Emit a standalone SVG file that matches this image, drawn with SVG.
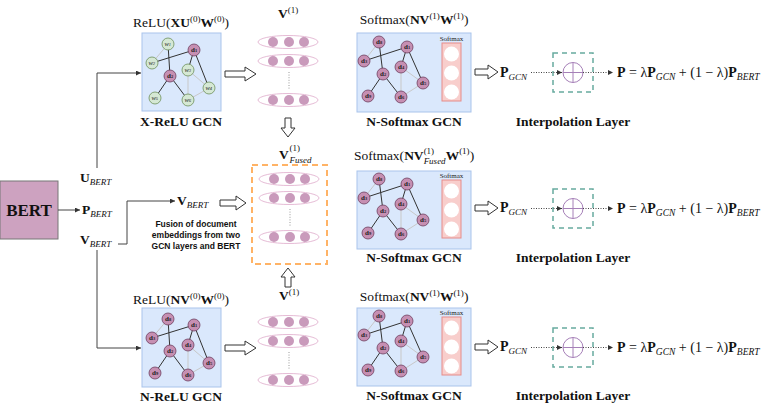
<svg xmlns="http://www.w3.org/2000/svg" xmlns:xlink="http://www.w3.org/1999/xlink" width="768" height="413" viewBox="0 0 768 413">
<style>
.m{font-family:"Liberation Serif","DejaVu Serif",serif;font-size:13.5px;fill:#111}
.b{font-weight:bold}
.i{font-style:italic}
.sup{font-size:9px}
.lbl{font-family:"Liberation Serif","DejaVu Serif",serif;font-size:13.5px;font-weight:bold;fill:#111}
.fus{font-family:"Liberation Sans","DejaVu Sans",sans-serif;font-size:8.5px;font-weight:bold;fill:#111}
.box{fill:#dae8fc;stroke:#a9c4eb;stroke-width:1}
.dk{stroke:#333;stroke-width:1}
.lt{stroke:#c8c8c8;stroke-width:1}
.pn{fill:#c68fb2;stroke:#6e3f60;stroke-width:0.8}
.gn{fill:#d5e8d4;stroke:#6d8f5a;stroke-width:0.8}
.nt{font-family:"Liberation Serif","DejaVu Serif",serif;font-size:7px;font-weight:bold;fill:#222}
.wt{font-family:"Liberation Serif","DejaVu Serif",serif;font-size:6.5px;font-style:italic;fill:#222}
.ns{font-size:4.5px}
.ell{fill:#fff;stroke:#e6bcd6;stroke-width:1}
.dot{fill:#c99abb}
.vd{stroke:#999;stroke-width:1;stroke-dasharray:1 1.6}
.hol{fill:#fff;stroke:#333;stroke-width:1}
.con{fill:none;stroke:#444;stroke-width:1}
.dt{fill:none;stroke:#444;stroke-width:1;stroke-dasharray:1 1.5}
.sq{fill:none;stroke:#67ab9f;stroke-width:1.5;stroke-dasharray:5 4}
.cp{fill:#fff;stroke:#a680b8;stroke-width:1}
.smc{fill:#f8cecc;stroke:#e58c8a;stroke-width:1}
.smt{font-family:"Liberation Serif","DejaVu Serif",serif;font-size:7px;fill:#222}
</style>
<defs>
<marker id="ah" viewBox="0 0 6 6" refX="6" refY="3" markerWidth="5" markerHeight="5" orient="auto">
<path d="M0,0 L6,3 L0,6 z" fill="#333"/>
</marker>
<g id="reluEdges">
<line class="lt" x1="26" y1="11" x2="10" y2="30"/>
<line class="lt" x1="46" y1="37" x2="46" y2="67"/>
<line class="lt" x1="46" y1="37" x2="67" y2="55"/>
<line class="lt" x1="46" y1="67" x2="67" y2="55"/>
<line class="dk" x1="26" y1="11" x2="28" y2="43"/>
<line class="dk" x1="10" y1="30" x2="52" y2="17"/>
<line class="dk" x1="52" y1="17" x2="46" y2="37"/>
<line class="dk" x1="52" y1="17" x2="67" y2="55"/>
<line class="dk" x1="28" y1="43" x2="13" y2="65"/>
<line class="dk" x1="28" y1="43" x2="46" y2="67"/>
</g>
<g id="reluDNodes">
<circle class="pn" cx="26" cy="11" r="6"/><circle class="pn" cx="52" cy="17" r="6"/>
<circle class="pn" cx="10" cy="30" r="6"/><circle class="pn" cx="46" cy="37" r="6"/>
<circle class="pn" cx="28" cy="43" r="6"/><circle class="pn" cx="67" cy="55" r="6"/>
<circle class="pn" cx="13" cy="65" r="6"/><circle class="pn" cx="46" cy="67" r="6"/>
<text class="nt" x="23" y="13">d<tspan class="ns">8</tspan></text>
<text class="nt" x="49" y="19">d<tspan class="ns">1</tspan></text>
<text class="nt" x="7" y="32">d<tspan class="ns">3</tspan></text>
<text class="nt" x="43" y="39">d<tspan class="ns">4</tspan></text>
<text class="nt" x="25" y="45">d<tspan class="ns">2</tspan></text>
<text class="nt" x="64" y="57">d<tspan class="ns">5</tspan></text>
<text class="nt" x="10" y="67">d<tspan class="ns">9</tspan></text>
<text class="nt" x="43" y="69">d<tspan class="ns">6</tspan></text>
</g>
<g id="smGraph">
<line class="lt" x1="22" y1="9" x2="7" y2="28"/>
<line class="lt" x1="44" y1="34" x2="44" y2="64"/>
<line class="lt" x1="44" y1="34" x2="66" y2="50"/>
<line class="lt" x1="44" y1="64" x2="66" y2="50"/>
<line class="dk" x1="22" y1="9" x2="26" y2="41"/>
<line class="dk" x1="7" y1="28" x2="50" y2="14"/>
<line class="dk" x1="50" y1="14" x2="44" y2="34"/>
<line class="dk" x1="50" y1="14" x2="66" y2="50"/>
<line class="dk" x1="26" y1="41" x2="11" y2="63"/>
<line class="dk" x1="26" y1="41" x2="44" y2="64"/>
<circle class="pn" cx="22" cy="9" r="6"/><circle class="pn" cx="50" cy="14" r="6"/>
<circle class="pn" cx="7" cy="28" r="6"/><circle class="pn" cx="44" cy="34" r="6"/>
<circle class="pn" cx="26" cy="41" r="6"/><circle class="pn" cx="66" cy="50" r="6"/>
<circle class="pn" cx="11" cy="63" r="6"/><circle class="pn" cx="44" cy="64" r="6"/>
<text class="nt" x="19" y="11">d<tspan class="ns">8</tspan></text>
<text class="nt" x="47" y="16">d<tspan class="ns">1</tspan></text>
<text class="nt" x="4" y="30">d<tspan class="ns">3</tspan></text>
<text class="nt" x="41" y="36">d<tspan class="ns">4</tspan></text>
<text class="nt" x="23" y="43">d<tspan class="ns">2</tspan></text>
<text class="nt" x="63" y="52">d<tspan class="ns">5</tspan></text>
<text class="nt" x="8" y="65">d<tspan class="ns">9</tspan></text>
<text class="nt" x="41" y="66">d<tspan class="ns">6</tspan></text>
<rect class="smc" x="85" y="10" width="19" height="58"/>
<text class="smt" x="94.5" y="7.5" text-anchor="middle">Softmax</text>
<circle cx="94.5" cy="21" r="7.5" fill="#fff"/>
<circle cx="94.5" cy="40" r="7.5" fill="#fff"/>
<circle cx="94.5" cy="59" r="7.5" fill="#fff"/>
</g>
<g id="vcol">
<ellipse class="ell" cx="0" cy="0" rx="30" ry="6.5"/>
<circle class="dot" cx="-15" cy="0" r="5"/><circle class="dot" cx="1" cy="0" r="5"/><circle class="dot" cx="16" cy="0" r="5"/>
<ellipse class="ell" cx="0" cy="19" rx="30" ry="6.5"/>
<circle class="dot" cx="-15" cy="19" r="5"/><circle class="dot" cx="1" cy="19" r="5"/><circle class="dot" cx="16" cy="19" r="5"/>
<line class="vd" x1="1" y1="30" x2="1" y2="47"/>
<ellipse class="ell" cx="0" cy="58" rx="30" ry="6.5"/>
<circle class="dot" cx="-15" cy="58" r="5"/><circle class="dot" cx="1" cy="58" r="5"/><circle class="dot" cx="16" cy="58" r="5"/>
</g>
<g id="interp">
<rect class="sq" x="-20" y="-19.5" width="40" height="39"/>
<circle class="cp" cx="0" cy="0" r="10"/>
<line x1="-10" y1="0" x2="10" y2="0" stroke="#a680b8" stroke-width="1"/>
<line x1="0" y1="-10" x2="0" y2="10" stroke="#a680b8" stroke-width="1"/>
</g>
</defs>

<!-- BERT -->
<g id="bert">
<rect x="0" y="181" width="58" height="58" fill="#cda2c0" stroke="#777" stroke-width="1"/>
<text class="lbl" x="29" y="216" text-anchor="middle" style="font-size:17px">BERT</text>
</g>
<g id="bert-outputs">
<text class="m" x="80" y="182"><tspan class="b">U</tspan><tspan class="i sup" dy="3">BERT</tspan></text>
<text class="m" x="82" y="214"><tspan class="b">P</tspan><tspan class="i sup" dy="3">BERT</tspan></text>
<text class="m" x="80" y="244"><tspan class="b">V</tspan><tspan class="i sup" dy="3">BERT</tspan></text>
<text class="m" x="177" y="205"><tspan class="b">V</tspan><tspan class="i sup" dy="3">BERT</tspan></text>
</g>

<!-- X-ReLU GCN -->
<g id="x-relu-gcn">
<text class="m" x="181" y="27" text-anchor="middle">ReLU(<tspan class="b">XU</tspan><tspan class="sup" dy="-5">(0)</tspan><tspan class="b" dy="5">W</tspan><tspan class="sup" dy="-5">(0)</tspan><tspan dy="5">)</tspan></text>
<rect class="box" x="142" y="33" width="79" height="78"/>
<g transform="translate(142,33)">
<use xlink:href="#reluEdges"/>
<circle class="gn" cx="26" cy="11" r="6"/><circle class="pn" cx="52" cy="17" r="6"/>
<circle class="gn" cx="10" cy="30" r="6"/><circle class="gn" cx="46" cy="37" r="6"/>
<circle class="pn" cx="28" cy="43" r="6"/><circle class="gn" cx="67" cy="55" r="6"/>
<circle class="gn" cx="13" cy="65" r="6"/><circle class="gn" cx="46" cy="67" r="6"/>
<text class="wt" x="22.5" y="13">w<tspan class="ns">1</tspan></text>
<text class="nt" x="49" y="19">d<tspan class="ns">1</tspan></text>
<text class="wt" x="6.5" y="32">w<tspan class="ns">2</tspan></text>
<text class="wt" x="42.5" y="39">w<tspan class="ns">3</tspan></text>
<text class="nt" x="25" y="45">d<tspan class="ns">2</tspan></text>
<text class="wt" x="63.5" y="57">w<tspan class="ns">4</tspan></text>
<text class="wt" x="9.5" y="67">w<tspan class="ns">5</tspan></text>
<text class="wt" x="42.5" y="69">w<tspan class="ns">6</tspan></text>
</g>
<text class="lbl" x="181" y="126" text-anchor="middle">X-ReLU GCN</text>
</g>

<!-- N-ReLU GCN -->
<g id="n-relu-gcn">
<text class="m" x="181" y="304" text-anchor="middle">ReLU(<tspan class="b">NV</tspan><tspan class="sup" dy="-5">(0)</tspan><tspan class="b" dy="5">W</tspan><tspan class="sup" dy="-5">(0)</tspan><tspan dy="5">)</tspan></text>
<rect class="box" x="142" y="308" width="79" height="79"/>
<g transform="translate(142,308)">
<use xlink:href="#reluEdges"/>
<use xlink:href="#reluDNodes"/>
</g>
<text class="lbl" x="181" y="401" text-anchor="middle">N-ReLU GCN</text>
</g>

<!-- V columns -->
<g id="v1-top">
<text class="m" x="278" y="18"><tspan class="b">V</tspan><tspan class="sup" dy="-5">(1)</tspan></text>
<use xlink:href="#vcol" transform="translate(288,42)"/>
</g>
<g id="v-fused">
<text class="m" x="279" y="159"><tspan class="b">V</tspan></text>
<text class="m sup" x="289.5" y="151">(1)</text>
<text class="m sup i" x="289.5" y="163">Fused</text>
<rect x="252" y="165" width="75" height="99" fill="none" stroke="#ffb366" stroke-width="2" stroke-dasharray="6 4"/>
<use xlink:href="#vcol" transform="translate(289,179)"/>
</g>
<g id="fusion-note">
<text class="fus" x="196" y="227" text-anchor="middle">Fusion of document</text>
<text class="fus" x="196" y="238" text-anchor="middle">embeddings from two</text>
<text class="fus" x="196" y="249" text-anchor="middle">GCN layers and BERT</text>
</g>
<g id="v1-bottom">
<text class="m" x="279" y="300"><tspan class="b">V</tspan><tspan class="sup" dy="-5">(1)</tspan></text>
<use xlink:href="#vcol" transform="translate(288,322)"/>
</g>

<!-- N-Softmax GCNs -->
<g id="n-softmax-gcn-1">
<text class="m" x="414" y="24" text-anchor="middle">Softmax(<tspan class="b">NV</tspan><tspan class="sup" dy="-5">(1)</tspan><tspan class="b" dy="5">W</tspan><tspan class="sup" dy="-5">(1)</tspan><tspan dy="5">)</tspan></text>
<rect class="box" x="357" y="33" width="114" height="79"/>
<use xlink:href="#smGraph" transform="translate(357,33)"/>
<text class="lbl" x="414" y="126" text-anchor="middle">N-Softmax GCN</text>
</g>
<g id="n-softmax-gcn-2">
<text class="m" x="414" y="160" text-anchor="middle">Softmax(<tspan class="b">NV</tspan><tspan class="sup" dy="-6">(1)</tspan><tspan class="sup i" dx="-10.5" dy="10">Fused</tspan><tspan class="b" dy="-4">W</tspan><tspan class="sup" dy="-6">(1)</tspan><tspan dy="6">)</tspan></text>
<rect class="box" x="357" y="171" width="114" height="78"/>
<use xlink:href="#smGraph" transform="translate(357,170)"/>
<text class="lbl" x="414" y="262" text-anchor="middle">N-Softmax GCN</text>
</g>
<g id="n-softmax-gcn-3">
<text class="m" x="414" y="301" text-anchor="middle">Softmax(<tspan class="b">NV</tspan><tspan class="sup" dy="-5">(1)</tspan><tspan class="b" dy="5">W</tspan><tspan class="sup" dy="-5">(1)</tspan><tspan dy="5">)</tspan></text>
<rect class="box" x="357" y="308" width="114" height="78"/>
<use xlink:href="#smGraph" transform="translate(357,307)"/>
<text class="lbl" x="414" y="400" text-anchor="middle">N-Softmax GCN</text>
</g>

<!-- Interpolation layers -->
<g id="interp-1">
<text class="m" x="500" y="77"><tspan class="b" style="font-size:14px">P</tspan><tspan class="i sup" dy="3">GCN</tspan></text>
<use xlink:href="#interp" transform="translate(573,72.5)"/>
<text class="lbl" x="573" y="126" text-anchor="middle">Interpolation Layer</text>
<text class="m" x="617" y="77" style="font-size:14px"><tspan class="b">P</tspan> = λ<tspan class="b">P</tspan><tspan class="i" style="font-size:9.5px" dy="3">GCN</tspan><tspan dy="-3"> + (1 − λ)</tspan><tspan class="b">P</tspan><tspan class="i" style="font-size:9.5px" dy="3">BERT</tspan></text>
</g>
<g id="interp-2">
<text class="m" x="500" y="212"><tspan class="b" style="font-size:14px">P</tspan><tspan class="i sup" dy="3">GCN</tspan></text>
<use xlink:href="#interp" transform="translate(573,208.5)"/>
<text class="lbl" x="573" y="262" text-anchor="middle">Interpolation Layer</text>
<text class="m" x="617" y="213" style="font-size:14px"><tspan class="b">P</tspan> = λ<tspan class="b">P</tspan><tspan class="i" style="font-size:9.5px" dy="3">GCN</tspan><tspan dy="-3"> + (1 − λ)</tspan><tspan class="b">P</tspan><tspan class="i" style="font-size:9.5px" dy="3">BERT</tspan></text>
</g>
<g id="interp-3">
<text class="m" x="500" y="351"><tspan class="b" style="font-size:14px">P</tspan><tspan class="i sup" dy="3">GCN</tspan></text>
<use xlink:href="#interp" transform="translate(573,347.5)"/>
<text class="lbl" x="573" y="400" text-anchor="middle">Interpolation Layer</text>
<text class="m" x="617" y="352" style="font-size:14px"><tspan class="b">P</tspan> = λ<tspan class="b">P</tspan><tspan class="i" style="font-size:9.5px" dy="3">GCN</tspan><tspan dy="-3"> + (1 − λ)</tspan><tspan class="b">P</tspan><tspan class="i" style="font-size:9.5px" dy="3">BERT</tspan></text>
</g>

<!-- Connectors -->
<g id="connectors">
<path class="con" d="M97,168 V73 H141" marker-end="url(#ah)"/>
<path class="con" d="M97,250 V348 H141" marker-end="url(#ah)"/>
<path class="con" d="M58,210 H80" marker-end="url(#ah)"/>
<path class="con" d="M118,244 H127 V201 H175" marker-end="url(#ah)"/>
<path class="hol" d="M225,71 H245 V67 L256,74 L245,81 V77 H225 Z"/>
<path class="hol" d="M225,345 H245 V341 L256,348 L245,355 V351 H225 Z"/>
<path class="hol" d="M285,118 V128 H281 L288,137 L295,128 H291 V118 Z"/>
<path class="hol" d="M288,268 L295,277 H291 V287 H285 V277 H281 Z"/>
<path class="hol" d="M220,200 H236 V196 L246,203 L236,210 V206 H220 Z"/>
<path class="hol" d="M475,69 H488 V65 L498,72 L488,79 V75 H475 Z"/>
<path class="hol" d="M475,205 H488 V201 L498,208 L488,215 V211 H475 Z"/>
<path class="hol" d="M475,344 H488 V340 L498,347 L488,354 V350 H475 Z"/>
<path class="dt" d="M531,72.5 H562" marker-end="url(#ah)"/>
<path class="dt" d="M583,72.5 H613" marker-end="url(#ah)"/>
<path class="dt" d="M531,208.5 H562" marker-end="url(#ah)"/>
<path class="dt" d="M583,208.5 H613" marker-end="url(#ah)"/>
<path class="dt" d="M531,347.5 H562" marker-end="url(#ah)"/>
<path class="dt" d="M583,347.5 H613" marker-end="url(#ah)"/>
</g>
</svg>
